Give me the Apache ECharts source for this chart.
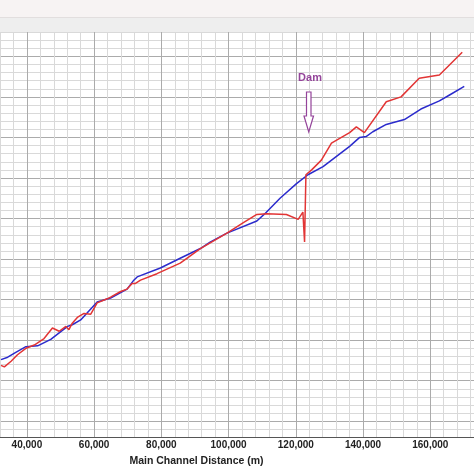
<!DOCTYPE html>
<html>
<head>
<meta charset="utf-8">
<script src="https://cdn.jsdelivr.net/npm/echarts@6/dist/echarts.min.js"></script>
<style>html,body{margin:0;padding:0;background:#fff;}#c{width:474px;height:474px;}</style>
</head>
<body>
<div id="c"></div>
<script>
// Main channel distance (m) vs elevation (arbitrary units, no y labels shown in reference)
const xTickLabels = [40000, 60000, 80000, 100000, 120000, 140000, 160000];
const blueProfile = [
  [32300,176],[34300,179],[36700,185],[39700,192],[43200,193],[47100,201],[52100,217],[53500,219],
  [56000,225],[60900,247],[64900,252],[69800,263],[71800,274],[72800,278],[79700,289],[85600,301],
  [91600,313],[94500,321],[99500,332],[108400,347],[110800,356],[115300,375],[120200,393],[123600,404],
  [128100,414],[136000,439],[139000,450],[140900,451],[142900,457],[146900,466],[152300,472],
  [157200,485],[162700,495],[165600,502],[170100,513]
];
const redProfile = [
  [32300,169],[33300,167],[35300,174],[37200,182],[39700,190],[42200,194],[45100,202],[47600,215],
  [49600,211],[51600,217],[52500,213],[53500,221],[55000,228],[57000,233],[59000,232],[59500,234],
  [60900,246],[63900,251],[64900,253],[67900,260],[69800,263],[71300,270],[72300,270],[73800,274],
  [78700,282],[85600,295],[91600,313],[99500,332],[104400,345],[108400,355],[111300,356],[117200,355],
  [120700,349],[122100,358],[122600,321],[123000,404],[124700,410],[127600,422],[130600,443],
  [136000,456],[138000,463],[140400,456],[146900,494],[151300,500],[156700,523],[162700,527],[169500,555]
];
const damLabel = 'Dam';
const xAxisName = 'Main Channel Distance (m)';

const minorC = '#d9d9d9', majorC = '#ababab';
const chart = echarts.init(document.getElementById('c'));
chart.setOption({
  animation: false,
  backgroundColor: '#ffffff',
  grid: {left: -1, right: -1, top: 32, bottom: 36.5, containLabel: false},
  xAxis: {
    type: 'value', min: 32000, max: 173000, interval: 4000,
    name: xAxisName, nameLocation: 'middle', nameGap: 18,
    nameTextStyle: {fontFamily: 'Liberation Sans', fontWeight: 'bold', fontSize: 10.5, color: '#222', padding: [0, 81, 0, 0]},
    axisLine: {show: true, lineStyle: {color: '#555', width: 1}},
    axisTick: {show: false},
    axisLabel: {
      show: true, margin: 3, fontFamily: 'Liberation Sans', fontWeight: 'bold', fontSize: 10, color: '#222',
      showMinLabel: false, showMaxLabel: false,
      formatter: v => xTickLabels.indexOf(v) >= 0 ? v.toLocaleString('en-US') : ''
    },
    splitLine: {show: true, lineStyle: {color: [minorC, minorC, majorC, minorC, minorC], width: 1}}
  },
  yAxis: {
    type: 'value', min: 80, max: 580, interval: 10,
    axisLine: {show: false}, axisTick: {show: false}, axisLabel: {show: false},
    splitLine: {show: true, lineStyle: {color: [minorC, minorC, majorC, minorC, minorC], width: 1}}
  },
  series: [
    {type: 'line', data: blueProfile, showSymbol: false, lineStyle: {color: '#2b2bcc', width: 1.5}, z: 3},
    {type: 'line', data: redProfile, showSymbol: false, lineStyle: {color: '#e23535', width: 1.5}, z: 4}
  ],
  graphic: [
    {type: 'rect', shape: {x: 0, y: 0, width: 474, height: 18}, style: {fill: '#f7f3f3'}, z: 10},
    {type: 'rect', shape: {x: 0, y: 18, width: 474, height: 14}, style: {fill: '#eeeeee'}, z: 10},
    {type: 'line', shape: {x1: 0, y1: 17.5, x2: 474, y2: 17.5}, style: {stroke: '#e2dede', lineWidth: 1}, z: 10},
    {type: 'text', x: 310, y: 78, style: {text: damLabel, fill: '#94449a', font: 'bold 11px "Liberation Sans"', align: 'center', verticalAlign: 'middle'}, z: 10},
    {type: 'polygon', shape: {points: [[306.5,92],[311,92],[311,116],[313.5,116],[308.75,132],[304,116],[306.5,116]]},
     style: {fill: '#ffffff', stroke: '#94449a', lineWidth: 1.2}, z: 10}
  ]
});
</script>
</body>
</html>
